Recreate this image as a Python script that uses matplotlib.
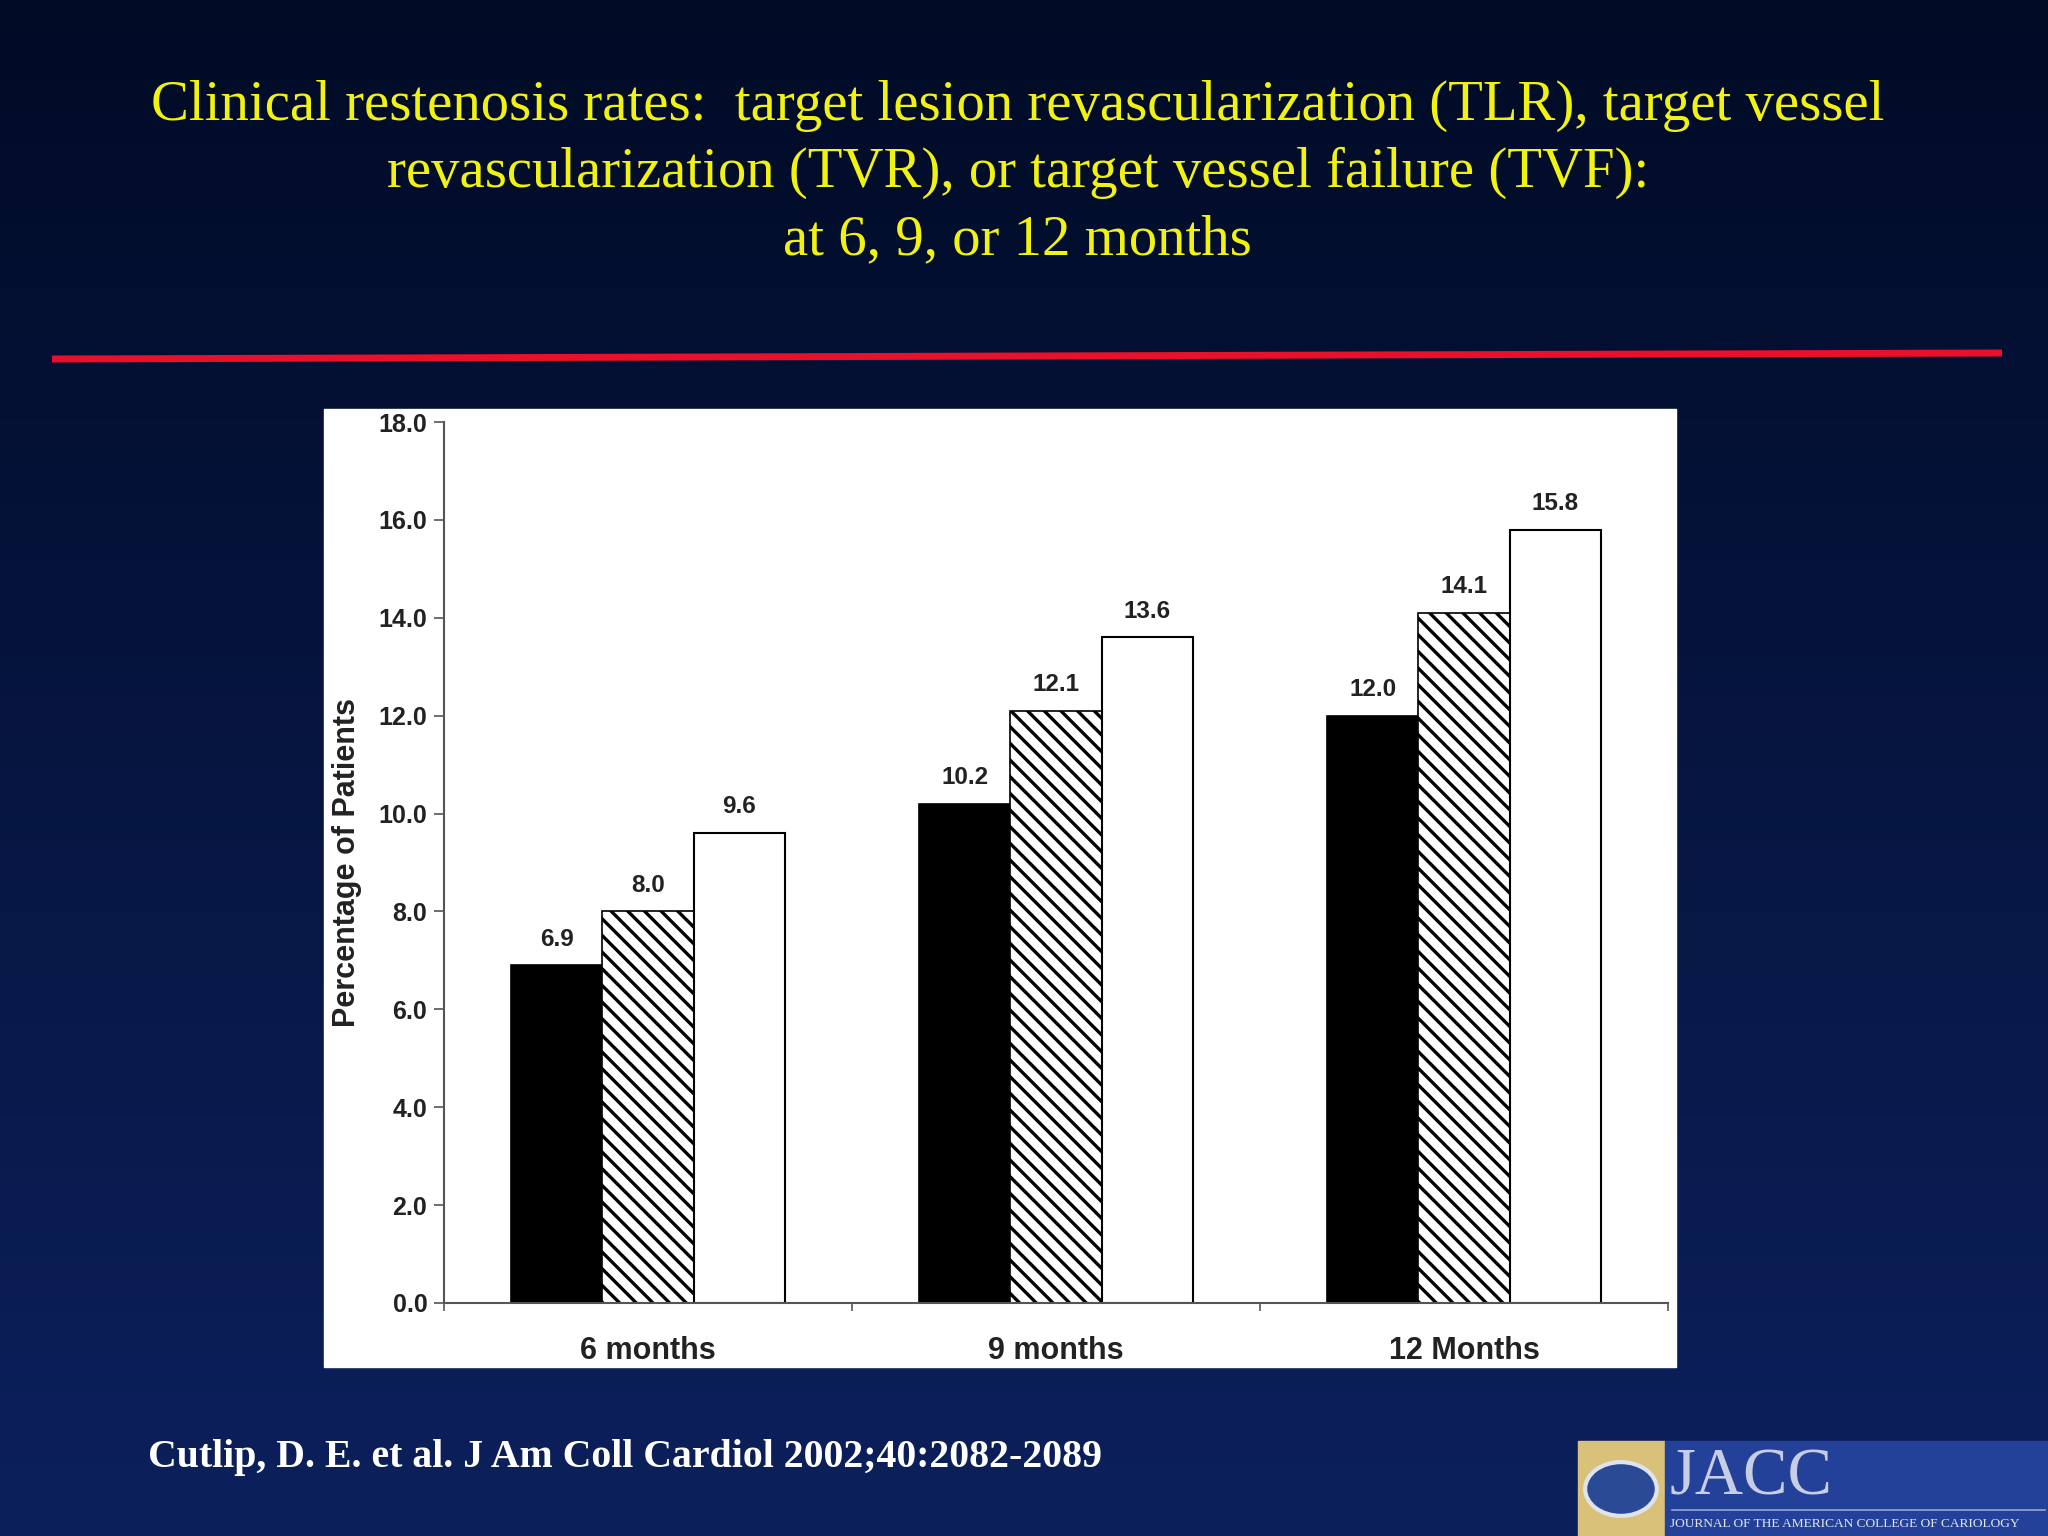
import numpy as np
import matplotlib
matplotlib.use('Agg')
import matplotlib.pyplot as plt
from matplotlib.patches import Rectangle, Circle

# Data
periods = ['6 months', '9 months', '12 Months']
tlr = [6.9, 10.2, 12.0]
tvr = [8.0, 12.1, 14.1]
tvf = [9.6, 13.6, 15.8]
y_ticks = [0, 2, 4, 6, 8, 10, 12, 14, 16, 18]

title_lines = [
    'Clinical restenosis rates:  target lesion revascularization (TLR), target vessel',
    'revascularization (TVR), or target vessel failure (TVF):',
    'at 6, 9, or 12 months',
]
citation = 'Cutlip, D. E. et al. J Am Coll Cardiol 2002;40:2082-2089'

plt.rcParams['hatch.linewidth'] = 2.4
plt.rcParams['hatch.color'] = 'black'

fig = plt.figure(figsize=(20.48, 15.36), dpi=100)

# Slide background: vertical navy gradient
bg = fig.add_axes([0, 0, 1, 1])
grad = np.linspace(0, 1, 256).reshape(-1, 1)
top = np.array([1, 11, 38]) / 255
bottom = np.array([12, 32, 92]) / 255
img = top + (bottom - top) * grad[:, :, None]
bg.imshow(img, aspect='auto', extent=[0, 1, 0, 1], origin='upper')
bg.set_xlim(0, 1)
bg.set_ylim(0, 1)
bg.axis('off')

# Title
for i, line in enumerate(title_lines):
    bg.text(0.497, 1 - (106 + 67 * i) / 1536, line, ha='center', va='center',
            color='#f2f20f', fontsize=40.9, family='Liberation Serif')

# Red rule
bg.plot([52 / 2048, 2002 / 2048], [1 - 359 / 1536, 1 - 353 / 1536],
        color='#e8102a', lw=5, solid_capstyle='butt')

# Citation
bg.text(148 / 2048, 1 - 1457 / 1536, citation, ha='left', va='center',
        color='white', fontsize=28.6, fontweight='bold', family='Liberation Serif')

# JACC logo block
bg.add_patch(Rectangle((1578 / 2048, 0), 87 / 2048, 95 / 1536, color='#d9c17a'))
bg.add_patch(Circle((1621 / 2048, 47 / 1536), 0.0175, transform=bg.transAxes,
                    facecolor='#2a4a96', edgecolor='#dfe3ee', lw=3))
bg.add_patch(Rectangle((1665 / 2048, 0), 383 / 2048, 95 / 1536, color='#24419a'))
bg.text(1670 / 2048, 1 - 1478 / 1536, 'JACC', ha='left', va='center',
        color='#c7cde6', fontsize=48, family='Liberation Serif')
bg.plot([1672 / 2048, 2045 / 2048], [1 - 1510 / 1536, 1 - 1510 / 1536],
        color='#9aa5cc', lw=1.2)
bg.text(1670 / 2048, 1 - 1524 / 1536, 'JOURNAL OF THE AMERICAN COLLEGE OF CARIOLOGY',
        ha='left', va='center', color='#e3e6f2', fontsize=9.6,
        family='Liberation Serif')

# White chart panel
bg.add_patch(Rectangle((324 / 2048, 1 - 1367 / 1536), 1352 / 2048, 958 / 1536,
                       color='white', zorder=2))

# Bar chart
ax = fig.add_axes([444 / 2048, 1 - 1303 / 1536, 1224 / 2048, 881 / 1536])
ax.set_facecolor('white')
x = np.arange(len(periods))
w = 0.224
b1 = ax.bar(x - w, tlr, w, color='black', edgecolor='black', lw=1.2)
b2 = ax.bar(x, tvr, w, color='white', edgecolor='black', lw=1.2, hatch='\\\\')
b3 = ax.bar(x + w, tvf, w, color='white', edgecolor='black', lw=1.5)
for bars in (b1, b2, b3):
    for rect in bars:
        h = rect.get_height()
        ax.text(rect.get_x() + rect.get_width() / 2, h + 0.3, f'{h:.1f}',
                ha='center', va='bottom', fontsize=17.5, fontweight='bold',
                color='#222222', family='Liberation Sans')

ax.set_xlim(-0.5, 2.5)
ax.set_ylim(0, 18)
ax.set_yticks(y_ticks)
ax.set_yticklabels([f'{v:.1f}' for v in y_ticks], fontsize=18, fontweight='bold',
                   family='Liberation Sans', color='#222222')
ax.set_xticks([-0.5, 0.5, 1.5, 2.5])
ax.set_xticklabels([])
ax.set_xticks(x, minor=True)
ax.set_xticklabels(periods, minor=True, fontsize=22, fontweight='bold',
                   family='Liberation Sans', color='#222222')
ax.tick_params(axis='x', which='minor', length=0, pad=24)
ax.tick_params(axis='x', which='major', length=6, color='#555555', width=1.2)
ax.tick_params(axis='y', length=7, color='#555555', width=1.2, pad=5)
for s in ('top', 'right'):
    ax.spines[s].set_visible(False)
for s in ('left', 'bottom'):
    ax.spines[s].set_color('#555555')
    ax.spines[s].set_linewidth(1.5)
ax.set_ylabel('Percentage of Patients', fontsize=22, fontweight='bold',
              family='Liberation Sans', color='#222222', labelpad=12)

fig.savefig('out.png', dpi=100)
